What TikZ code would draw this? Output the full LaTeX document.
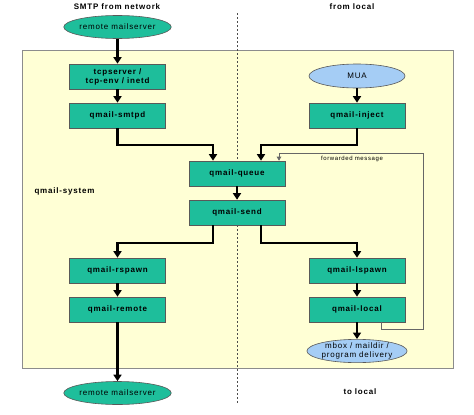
\documentclass[tikz,border=0pt]{standalone}
\usepackage{fontspec}
\newfontfamily\diafont[LetterSpace=10]{Liberation Sans}
\usetikzlibrary{shapes.geometric,arrows.meta}
\definecolor{qgreen}{RGB}{30,190,155}
\definecolor{qblue}{RGB}{165,205,245}
\definecolor{qyellow}{RGB}{255,255,213}
\tikzset{
  prog/.style={rectangle,draw=black!65,line width=0.6pt,fill=qgreen,
    minimum width=96pt,minimum height=25pt,inner sep=1pt,align=center,
    font=\diafont\fontsize{8}{9}\selectfont\bfseries},
  server/.style={ellipse,draw=black!65,line width=0.6pt,fill=qgreen,
    minimum width=97pt,minimum height=23pt,inner sep=0pt,
    font=\diafont\fontsize{8}{9}\selectfont},
  local/.style={server,fill=qblue,align=center},
  heading/.style={font=\diafont\fontsize{8}{9}\selectfont\bfseries},
  flow/.style={line width=2.2pt,-{Triangle[width=8pt,length=6.5pt]}},
  fwd/.style={draw=black!60,line width=0.7pt,-{Triangle[width=4.5pt,length=4pt]}}
}
\begin{document}
\begin{tikzpicture}[x=1pt,y=-1pt]
\useasboundingbox (0,0) rectangle (474,415);
\draw[black!45,line width=1pt,fill=qyellow] (22,50) rectangle (453,368);
\draw[black!70,line width=0.8pt,dash pattern=on 2pt off 2pt] (237,13) -- (237,404);

% headings
\node[heading] (netHead) at (117,7) {SMTP from network};
\node[heading] (locHead) at (352,7) {from local};
\node[heading,anchor=west] (sysLabel) at (31,191) {qmail-system};
\node[heading] (toLocal) at (360,392) {to local};

% network side
\node[server] (remIn) at (117.5,27) {remote mailserver};
\node[prog] (tcp) at (117.5,76.5) {tcpserver /\\tcp-env / inetd};
\node[prog] (smtpd) at (117.5,115.5) {qmail-smtpd};
\node[prog] (rspawn) at (117.5,270.5) {qmail-rspawn};
\node[prog] (remote) at (117.5,309.5) {qmail-remote};
\node[server] (remOut) at (117.5,393) {remote mailserver};

% local side
\node[local,minimum width=96pt,minimum height=24pt] (mua) at (357,76) {MUA};
\node[prog] (inject) at (357,115.5) {qmail-inject};
\node[prog] (lspawn) at (357,270.5) {qmail-lspawn};
\node[prog] (qlocal) at (357,309.5) {qmail-local};
\node[local,minimum width=96pt,minimum height=23pt,inner sep=0pt] (mbox) at (357,351)
  {mbox / maildir /\\program delivery};

% core
\node[prog] (queue) at (237,173.5) {qmail-queue};
\node[prog] (send) at (237,212.5) {qmail-send};

\draw[flow] (remIn) -- (tcp);
\draw[flow] (tcp) -- (smtpd);
\draw[flow] (mua) -- (inject);
\draw[flow] (smtpd.south) -- ++(0,17) -| ([xshift=-24pt]queue.north);
\draw[flow] (inject.south) -- ++(0,17) -| ([xshift=24pt]queue.north);
\draw[flow] (queue) -- (send);
\draw[flow] ([xshift=-24pt]send.south) -- ++(0,18) -| (rspawn.north);
\draw[flow] ([xshift=24pt]send.south) -- ++(0,18) -| (lspawn.north);
\draw[flow] (rspawn) -- (remote);
\draw[flow] (lspawn) -- (qlocal);
\draw[flow] (qlocal) -- (mbox);
\draw[flow] (remote) -- (remOut);

% forwarded message loop
\coordinate (fwdTurn) at (423,153);
\draw[fwd] ([xshift=24pt]qlocal.south) -- ++(0,7) -| (fwdTurn) -| ([xshift=42pt]queue.north);
\node[font=\diafont\fontsize{6}{7}\selectfont] (fwdLabel) at (352,159) {forwarded message};
\end{tikzpicture}
\end{document}
